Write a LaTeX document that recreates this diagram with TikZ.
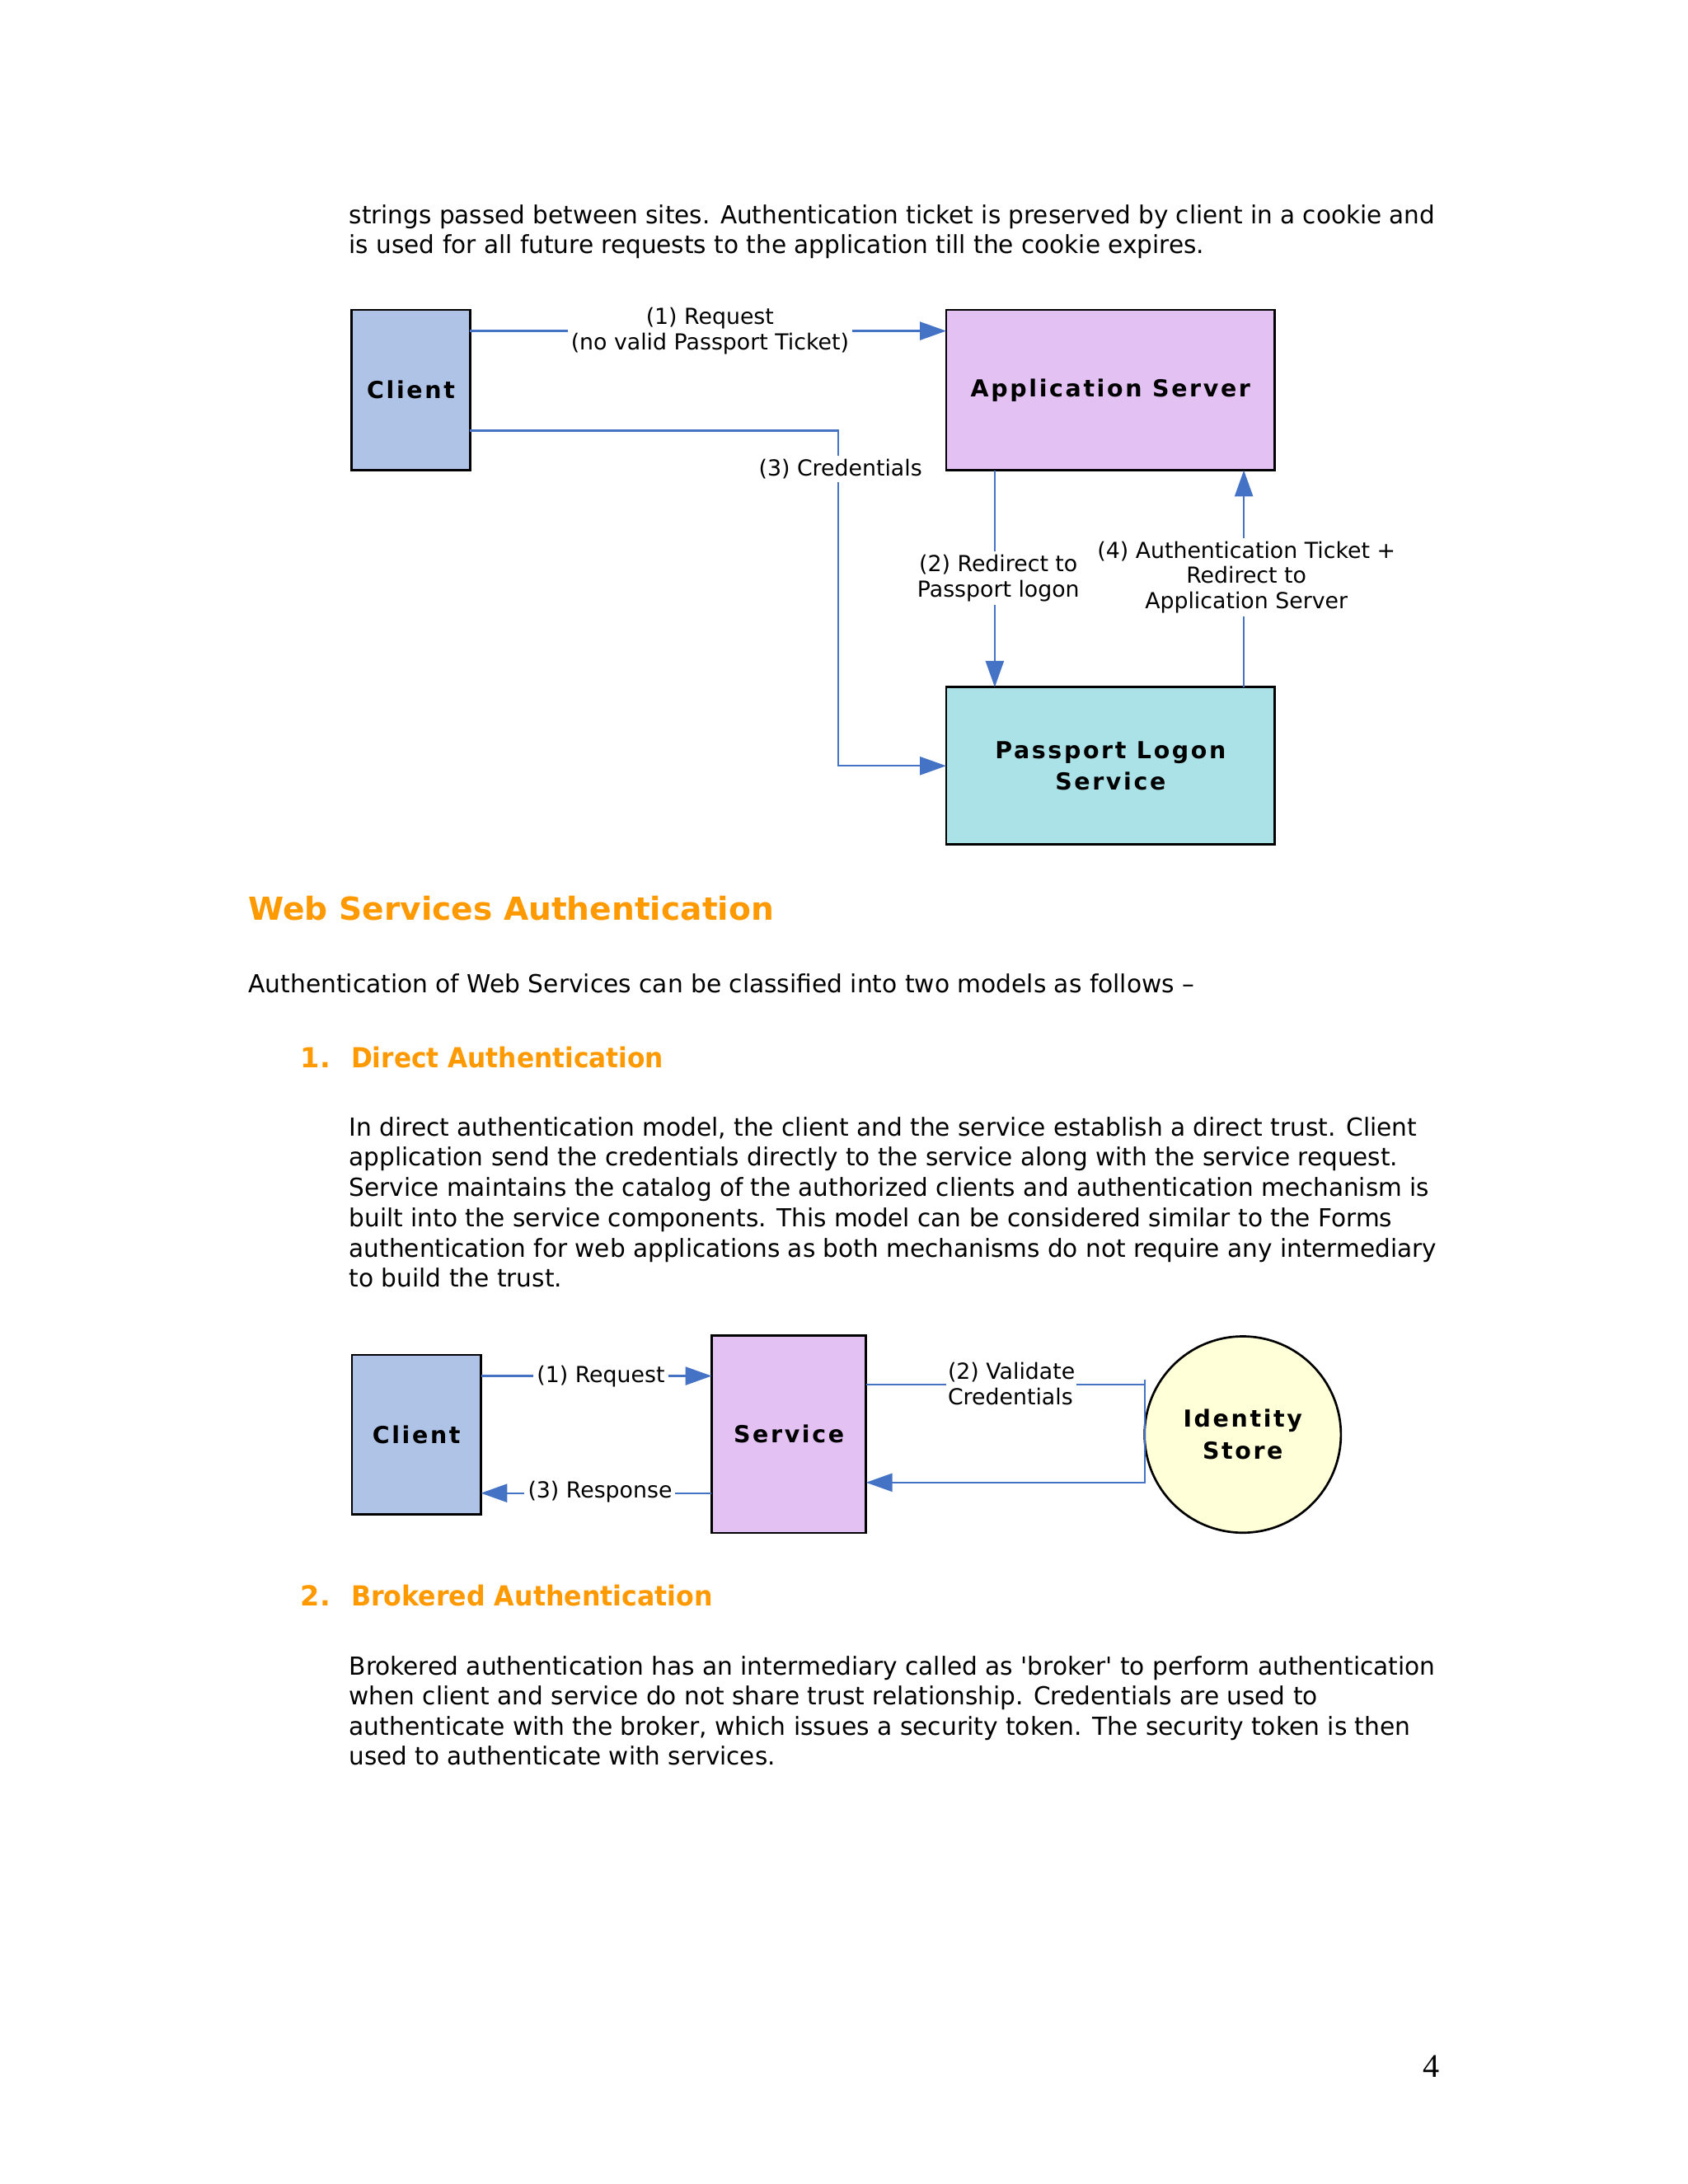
\documentclass[tikz,border=0pt]{standalone}
\usepackage{fontspec}
\usepackage{graphicx}
\usetikzlibrary{arrows.meta}
\setmainfont{DejaVu Sans}
\newfontfamily\boxfont{DejaVu Sans}[LetterSpace=9.3]
\newfontfamily\pagefont{Liberation Serif}
\definecolor{clientfill}{HTML}{AFC3E6}
\definecolor{appfill}{HTML}{E3C1F3}
\definecolor{passfill}{HTML}{AAE2E8}
\definecolor{idfill}{HTML}{FFFFD8}
\definecolor{lineblue}{HTML}{4472C4}
\definecolor{orng}{HTML}{FF9900}
\newcommand\fitw[2]{\resizebox{#1pt}{\height}{#2}}
\tikzset{
  boxnode/.style={draw=black, line width=0.8pt, inner sep=0pt, outer sep=0pt,
    font=\boxfont\bfseries\fontsize{8.5}{11.5}\selectfont, align=center},
  conn/.style={draw=lineblue, line width=0.65pt},
  arr/.style={conn, -{Triangle[length=9.5pt,width=6.6pt]}},
  lab/.style={fill=white, inner sep=1.2pt, align=center,
    font=\fontsize{8}{9.2}\selectfont},
  txt/.style={anchor=base west, inner sep=0pt, font=\fontsize{9}{10.8}\selectfont},
  head/.style={anchor=base west, inner sep=0pt, text=orng,
    font=\bfseries\fontsize{10}{12}\selectfont}
}
\begin{document}
\begin{tikzpicture}[x=0.50579pt,y=-0.50579pt]
\fill[white] (0,0) rectangle (1210,1566);
\useasboundingbox (0,0) rectangle (1210,1566);

% ---- top text
\node[txt] (t1) at (250,160.6) {\fitw{393.8}{strings passed between sites. Authentication ticket is preserved by client in a cookie and}};
\node[txt] (t2) at (250,181.8) {\fitw{310.1}{is used for all future requests to the application till the cookie expires.}};

% ---- diagram 1
\node[boxnode, fill=clientfill, minimum width=42.9pt, minimum height=58.2pt] (c1) at (294.6,279.65) {Client};
\node[boxnode, fill=appfill, minimum width=119.2pt, minimum height=58.2pt] (app) at (796.2,279.65) {Application Server};
\node[boxnode, fill=passfill, minimum width=119.2pt, minimum height=57.1pt] (pls) at (796.2,549.15) {Passport Logon\\Service};

\coordinate (y1) at (0,237.3);
\coordinate (y3) at (0,308.8);
\coordinate (xc) at (601.2,0);
\coordinate (x2) at (713.2,0);
\coordinate (x4) at (891.8,0);

\draw[arr] (c1.east |- y1) -- (app.west |- y1);
\draw[arr] (c1.east |- y3) -- (xc |- y3) -- (xc |- pls.west) -- (pls.west);
\draw[arr] (app.south -| x2) -- (pls.north -| x2);
\draw[arr] (pls.north -| x4) -- (app.south -| x4);

\node[lab] (l1) at (509,237.5) {(1) Request\\(no valid Passport Ticket)};
\node[lab] (l3) at (602.6,336) {(3) Credentials};
\node[lab] (l2) at (715.8,414.5) {(2) Redirect to\\Passport logon};
\node[lab] (l4) at (893.6,414) {(4) Authentication Ticket +\\Redirect to\\Application Server};

% ---- headings and text
\node[head, font=\bfseries\fontsize{11.5}{13}\selectfont] (h1) at (177.8,660) {\fitw{190.5}{Web Services Authentication}};
\node[txt] (p0) at (177.8,711.9) {\fitw{343.0}{Authentication of Web Services can be classified into two models as follows –}};

\node[head] (n1) at (215.2,765.7) {1.};
\node[head] (s1) at (251.4,765.7) {\fitw{113.2}{Direct Authentication}};

\node[txt] (a1) at (250,814.4) {\fitw{387.2}{In direct authentication model, the client and the service establish a direct trust. Client}};
\node[txt] (a2) at (250,835.9) {\fitw{380.3}{application send the credentials directly to the service along with the service request.}};
\node[txt] (a3) at (250,857.6) {\fitw{391.6}{Service maintains the catalog of the authorized clients and authentication mechanism is}};
\node[txt] (a4) at (250,879.5) {\fitw{378.2}{built into the service components. This model can be considered similar to the Forms}};
\node[txt] (a5) at (250,901.3) {\fitw{394.3}{authentication for web applications as both mechanisms do not require any intermediary}};
\node[txt] (a6) at (250,923.0) {\fitw{77.2}{to build the trust.}};

% ---- diagram 2
\node[boxnode, fill=clientfill, minimum width=46.8pt, minimum height=57.9pt] (c2) at (298.55,1028.75) {Client};
\node[boxnode, fill=appfill, minimum width=56.0pt, minimum height=71.6pt] (svc) at (565.6,1028.4) {Service};
\node[boxnode, circle, fill=idfill, minimum size=71.2pt] (ids) at (891,1028.6) {Identity\\Store};

\coordinate (v1) at (0,986.6);
\coordinate (v3) at (0,1070.6);
\coordinate (w0) at (0,989.2);
\coordinate (w1) at (0,992.6);
\coordinate (w2) at (0,1063.0);

\draw[arr] (c2.east |- v1) -- (svc.west |- v1);
\draw[arr] (svc.west |- v3) -- (c2.east |- v3);
\draw[conn] (ids.west |- w0) -- (ids.west |- w1);
\draw[arr] (svc.east |- w1) -- (ids.west |- w1) -- (ids.west |- w2) -- (svc.east |- w2);

\node[lab] (m1) at (430.8,987.2) {(1) Request};
\node[lab] (m3) at (430.2,1069.5) {(3) Response};
\node[lab, align=left, anchor=west, inner xsep=0.6pt] (m2) at (678,992) {(2) Validate\\Credentials};

% ---- brokered
\node[head] (n2) at (215.2,1151.3) {2.};
\node[head] (s2) at (251.4,1151.3) {\fitw{131.2}{Brokered Authentication}};

\node[txt] (b1) at (250,1201.1) {\fitw{393.8}{Brokered authentication has an intermediary called as \textquotesingle broker\textquotesingle{} to perform authentication}};
\node[txt] (b2) at (250,1222.4) {\fitw{351.2}{when client and service do not share trust relationship. Credentials are used to}};
\node[txt] (b3) at (250,1244.1) {\fitw{384.9}{authenticate with the broker, which issues a security token. The security token is then}};
\node[txt] (b4) at (250,1265.6) {\fitw{154.5}{used to authenticate with services.}};

% ---- page number
\node[anchor=base west, inner sep=0pt, font=\pagefont\fontsize{12}{14}\selectfont] (pg) at (1020,1489.2) {4};
\end{tikzpicture}
\end{document}
